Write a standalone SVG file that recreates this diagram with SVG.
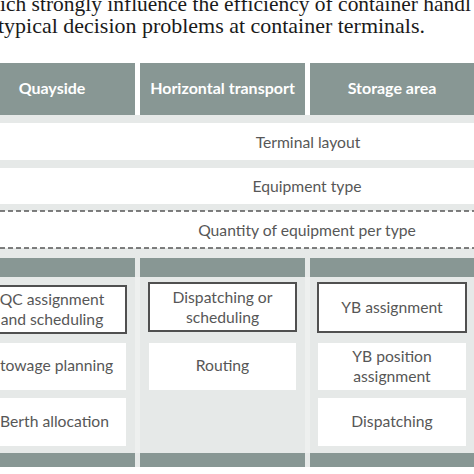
<svg xmlns="http://www.w3.org/2000/svg" width="474" height="474" viewBox="0 0 474 474">
  <style>
    .title { font-family: "Liberation Serif", "Times New Roman", serif; font-size: 21.5px; fill: #1a1a1a; }
    .hdr { fill: #889794; }
    .hdrtxt { font-family: Lato, "Open Sans", sans-serif; font-weight: bold; font-size: 16px; fill: #ffffff; text-anchor: middle; }
    .bg { fill: #e6e9e8; }
    .gap { fill: #eef0ef; }
    .row { fill: #ffffff; }
    .box { fill: #ffffff; stroke: #505050; stroke-width: 2; }
    .cell { fill: #ffffff; }
    .txt { font-family: Lato, "Open Sans", sans-serif; font-size: 15.7px; fill: #575757; text-anchor: middle; }
    .dash { stroke: #555555; stroke-width: 1.5; stroke-dasharray: 5 3; fill: none; }
  </style>
  <rect x="0" y="0" width="474" height="474" fill="#ffffff"/>
  <text class="title" x="0" y="11" textLength="471" lengthAdjust="spacingAndGlyphs">ich strongly influence the efficiency of container handl</text>
  <text class="title" x="-2" y="33" textLength="427" lengthAdjust="spacingAndGlyphs">typical decision problems at container terminals.</text>

  <!-- background -->
  <rect class="bg" x="0" y="115" width="474" height="352"/>
  <rect class="gap" x="135" y="277" width="5" height="176"/>
  <rect class="gap" x="305" y="277" width="5" height="176"/>

  <g id="header-quayside">
    <rect class="hdr" x="-31" y="63" width="166" height="52"/>
    <text class="hdrtxt" x="52" y="94">Quayside</text>
  </g>
  <g id="header-horizontal">
    <rect class="hdr" x="140" y="63" width="165" height="52"/>
    <text class="hdrtxt" x="222.5" y="94">Horizontal transport</text>
  </g>
  <g id="header-storage">
    <rect class="hdr" x="310" y="63" width="170" height="52"/>
    <text class="hdrtxt" x="392" y="94">Storage area</text>
  </g>

  <g id="terminal-layout">
    <rect class="row" x="0" y="123" width="474" height="37"/>
    <text class="txt" x="308" y="148">Terminal layout</text>
  </g>
  <g id="equipment-type">
    <rect class="row" x="0" y="168" width="474" height="36"/>
    <text class="txt" x="307" y="192">Equipment type</text>
  </g>
  <g id="quantity">
    <rect class="row" x="0" y="211" width="474" height="37"/>
    <text class="txt" x="307" y="236">Quantity of equipment per type</text>
  </g>
  <g id="separators">
    <line class="dash" x1="0" y1="211" x2="474" y2="211"/>
    <line class="dash" x1="0" y1="248" x2="474" y2="248"/>
  </g>

  <g id="bars">
    <rect class="hdr" x="-31" y="258" width="166" height="19"/>
    <rect class="hdr" x="140" y="258" width="165" height="19"/>
    <rect class="hdr" x="310" y="258" width="170" height="19"/>
    <rect class="hdr" x="-31" y="453" width="166" height="14"/>
    <rect class="hdr" x="140" y="453" width="165" height="14"/>
    <rect class="hdr" x="310" y="453" width="170" height="14"/>
  </g>

  <g id="qc-assignment">
    <rect class="box" x="-21" y="286" width="147" height="47"/>
    <text class="txt" x="52" y="305">QC assignment</text>
    <text class="txt" x="52" y="325">and scheduling</text>
  </g>
  <g id="dispatching-scheduling">
    <rect class="box" x="149" y="283" width="147" height="48"/>
    <text class="txt" x="222.5" y="303">Dispatching or</text>
    <text class="txt" x="222.5" y="323">scheduling</text>
  </g>
  <g id="yb-assignment">
    <rect class="box" x="318" y="283" width="148" height="49"/>
    <text class="txt" x="392" y="313">YB assignment</text>
  </g>
  <g id="stowage-planning">
    <rect class="cell" x="-21" y="343" width="147" height="47"/>
    <text class="txt" x="0" y="371" style="text-anchor:start">towage planning</text>
  </g>
  <g id="routing">
    <rect class="cell" x="149" y="343" width="147" height="47"/>
    <text class="txt" x="222.5" y="371">Routing</text>
  </g>
  <g id="yb-position">
    <rect class="cell" x="318" y="343" width="148" height="47"/>
    <text class="txt" x="392" y="362">YB position</text>
    <text class="txt" x="392" y="382">assignment</text>
  </g>
  <g id="berth-allocation">
    <rect class="cell" x="-21" y="398" width="147" height="48"/>
    <text class="txt" x="0" y="427" style="text-anchor:start">Berth allocation</text>
  </g>
  <g id="dispatching">
    <rect class="cell" x="318" y="398" width="148" height="48"/>
    <text class="txt" x="392" y="427">Dispatching</text>
  </g>
</svg>
